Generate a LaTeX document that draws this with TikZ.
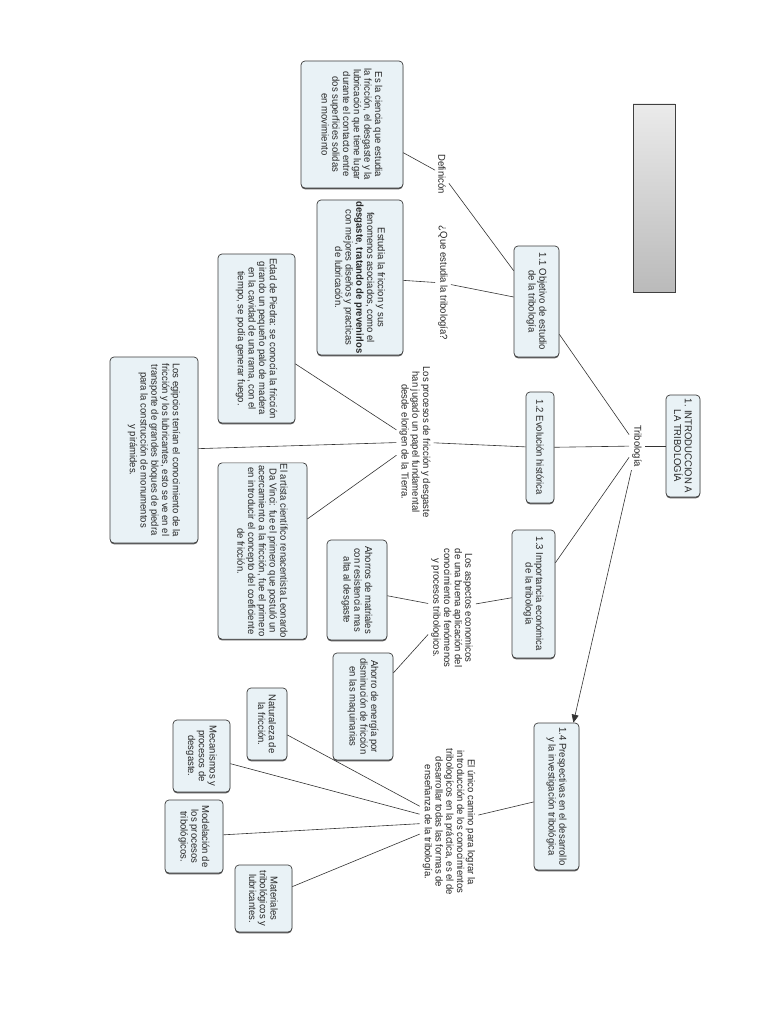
\documentclass[tikz,border=0pt]{standalone}
\usepackage{fontspec}
\setmainfont{Liberation Sans}[FakeStretch=0.95]
\usepackage{tikz}
\usetikzlibrary{arrows.meta,shadows}
\definecolor{cajafondo}{RGB}{233,242,246}
\definecolor{cajaborde}{RGB}{60,60,60}

\begin{document}
\begin{tikzpicture}[x=1pt,y=-1pt,
		caja/.style={draw=cajaborde, line width=0.7pt, fill=cajafondo, rounded corners=4pt,
			rotate=-90, align=center, inner sep=1pt,
			drop shadow={shadow xshift=0pt, shadow yshift=-1.3pt, opacity=0.8, fill=black!80}},
		enlace/.style={align=center, rotate=-90, inner sep=3pt},
		linea/.style={draw=black!80, line width=0.6pt},
		every node/.style={font=\fontsize{10}{10.7}\selectfont, text=black!85}]
	%%%%% START %%%%%
	\useasboundingbox[fill=white] (0, 0) rectangle (768, 1024);
	
	\draw[draw=black!75, line width=0.8pt, top color=black!8, bottom color=black!27] (633, 104) rectangle (675, 292);
	
	\node[caja, minimum width=102pt, minimum height=34pt] (intro) at (683, 446) {1. INTRODUCCION A\\LA TRIBOLOGÍA};
	\node[enlace] (trib) at (637, 446) {Tribología};
	
	\node[caja, minimum width=111pt, minimum height=45pt] (obj) at (536.5, 301.5) {1.1 Objetivo de estudio\\de la tribología};
	\node[caja, minimum width=111pt, minimum height=28pt] (evol) at (540, 447.5) {1.2 Evolución histórica};
	\node[caja, minimum width=128pt, minimum height=43pt] (imp) at (533.5, 594) {1.3 Importancia económica\\de la tribología};
	\node[caja, minimum width=147pt, minimum height=45pt] (persp) at (556.5, 796.5) {1.4 Prespectivas en el desarrollo\\y la investigación tribológica};
	
	\node[enlace] (defin) at (442, 174) {Definicón};
	\node[enlace] (queest) at (443, 283) {¿Que estudia la tribología?};
	\node[caja, minimum width=127pt, minimum height=102pt] (defbox) at (352, 124.5) {Es la ciencia que estudia\\la fricción, el desgaste y la\\lubricación que tiene lugar\\durante el contacto entre\\dos superficies solidas\\en movimiento};
	\node[caja, minimum width=155pt, minimum height=86pt] (estbox) at (360, 277.5) {Estudia la friccion y sus\\fenomenos asociados, como el\\\textbf{desgaste}, \textbf{tratando de prevenirlos}\\con mejores diseños y practicas\\de lubricación.};
	
	\node[enlace] (proc) at (415, 442) {Los procesos de fricción y desgaste\\han jugado un papel fundamental\\desde elorigen de la Tierra.};
	\node[caja, minimum width=169pt, minimum height=77pt] (edad) at (256.5, 338.5) {Edad de Piedra: se conocía la fricción\\girando un pequeño palo de madera\\en la cavidad de una rama, con el\\tiempo, se podía generar fuego.};
	\node[caja, minimum width=186pt, minimum height=88pt] (egip) at (154, 450) {Los egipcios tenían el conocimiento de la\\fricción y los lubricantes, esto se ve en el\\transporte de grandes bloques de piedra\\para la construcción de monumentos\\y pirámides.};
	\node[caja, minimum width=161pt, minimum height=89pt] (artista) at (262.5, 551) {El artista científico renacentista Leonardo\\Da Vinci: fue el primero que postuló un\\acercamiento a la fricción, fue el primero\\en introducir el concepto del coeficiente\\de fricción.};
	
	\node[enlace] (asp) at (452, 608) {Los aspectos economicos\\de una buena aplicación del\\conocimiento de fenómenos\\y procesos tribologicos.};
	\node[caja, minimum width=100pt, minimum height=60pt] (ahmat) at (357, 590) {Ahorros de matriales\\con resistencia mas\\alta al desgaste};
	\node[caja, minimum width=107pt, minimum height=60pt] (ahene) at (363, 706.5) {Ahorro de energía por\\disminución de fricción\\en las maquinarias};
	
	\node[enlace] (unico) at (449, 822) {El único camino para lograr la\\introducción de los conocimientos\\tribologícos en la práctica, es el de\\desarrollar todas las formas de\\enseñanza de la tribología.};
	\node[caja, minimum width=72pt, minimum height=40pt] (natu) at (267, 724) {Naturaleza de\\la fricción.};
	\node[caja, minimum width=72pt, minimum height=57pt] (meca) at (201.5, 756) {Mecanismos y\\procesos de\\desgaste.};
	\node[caja, minimum width=73pt, minimum height=58pt] (mode) at (194, 836.5) {Modelación de\\los procesos\\tribológicos.};
	\node[caja, minimum width=67pt, minimum height=57pt] (mate) at (263.5, 898.5) {Materiales\\tribológicos y\\lubricantes.};
	
	\draw[linea] (intro) -- (trib);
	\draw[linea] (trib) -- (obj);
	\draw[linea] (trib) -- (evol);
	\draw[linea] (trib) -- (imp);
	\draw[linea, -{Triangle[length=8pt, width=7pt]}] (trib) -- (persp);
	
	\draw[linea] (obj) -- (defin);
	\draw[linea] (defin) -- (defbox);
	\draw[linea] (obj) -- (queest);
	\draw[linea] (queest) -- (estbox);
	
	\draw[linea] (evol) -- (proc);
	\draw[linea] (proc) -- (edad);
	\draw[linea] (proc) -- (egip);
	\draw[linea] (proc) -- (artista);
	
	\draw[linea] (imp) -- (asp);
	\draw[linea] (asp) -- (ahmat);
	\draw[linea] (asp) -- (ahene);
	
	\draw[linea] (persp) -- (unico);
	\draw[linea] (unico) -- (natu);
	\draw[linea] (unico) -- (meca);
	\draw[linea] (unico) -- (mode);
	\draw[linea] (unico) -- (mate);
	
	%%%%% END %%%%%
\end{tikzpicture}
\end{document}
